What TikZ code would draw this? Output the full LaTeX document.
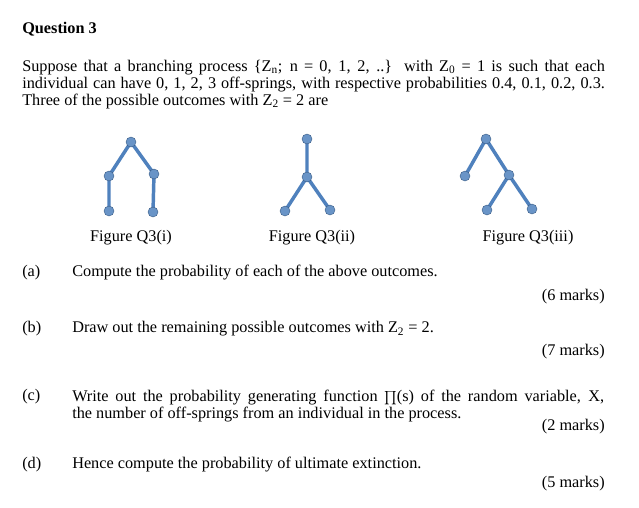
\documentclass[tikz,border=0pt]{standalone}
\usepackage{fontspec}
\setmainfont{Liberation Serif}
\definecolor{tb}{RGB}{79,129,189}
\begin{document}
\begin{tikzpicture}[x=0.75pt,y=-0.75pt,
  dot/.style={circle,fill=tb!85,draw=tb!70!black,line width=0.3pt,inner sep=0pt,minimum size=7.5pt},
  br/.style={draw=tb,line width=2.6pt},
  txt/.style={anchor=west,inner sep=0pt,font=\fontsize{12.2}{12.75}\selectfont},
  mk/.style={anchor=east,inner sep=0pt,font=\fontsize{12.2}{12.75}\selectfont}]
\fill[white] (0,0) rectangle (639,507);
\useasboundingbox (0,0) rectangle (639,507);
\node[txt,font=\fontsize{12.2}{12.75}\bfseries] (q) at (22,29) {Question 3};
\node[anchor=north west,inner sep=0pt,text width=437pt,align=justify,font=\fontsize{12.2}{12.75}\selectfont] (p) at (22,60)
 {Suppose that a branching process \{Z\textsubscript{n}; n = 0, 1, 2, ..\} with Z\textsubscript{0} = 1 is such that each\linebreak individual can have 0, 1, 2, 3 off-springs, with respective probabilities 0.4, 0.1, 0.2, 0.3.\linebreak Three of the possible outcomes with Z\textsubscript{2} = 2 are};
% figure i
\coordinate (a0) at (131,142);\coordinate (a1) at (109,176);\coordinate (a2) at (154,174);\coordinate (a3) at (109,211);\coordinate (a4) at (153,212);
\draw[br] (a3)--(a1)--(a0)--(a2)--(a4);
% figure ii
\coordinate (b0) at (307,139);\coordinate (b1) at (307,177);\coordinate (b2) at (285,211);\coordinate (b3) at (330,210);
\draw[br] (b0)--(b1) (b2)--(b1)--(b3);
% figure iii
\coordinate (c0) at (486,139);\coordinate (c1) at (465,176);\coordinate (c2) at (509,175);\coordinate (c3) at (487,210);\coordinate (c4) at (532,209);
\draw[br] (c1)--(c0)--(c2)--(c3) (c2)--(c4);
\foreach \n in {a0,a1,a2,a3,a4,b0,b1,b2,b3,c0,c1,c2,c3,c4} \node[dot] at (\n) {};
\node[txt,anchor=center] (f1) at (131,238) {Figure Q3(i)};
\node[txt,anchor=center] (f2) at (312,238) {Figure Q3(ii)};
\node[txt,anchor=center] (f3) at (528,238) {Figure Q3(iii)};
\node[txt] (la) at (22,273) {(a)};
\node[txt] (ta) at (72,273) {Compute the probability of each of the above outcomes.};
\node[mk] (ma) at (605,297) {(6 marks)};
\node[txt] (lb) at (22,329) {(b)};
\node[txt] (tb) at (72,329) {Draw out the remaining possible outcomes with Z\textsubscript{2} = 2.};
\node[mk] (mb) at (605,352) {(7 marks)};
\node[txt] (lc) at (22,397) {(c)};
\node[anchor=north west,inner sep=0pt,text width=399pt,align=justify,font=\fontsize{12.2}{12.75}\selectfont] (tc) at (72,390)
 {Write out the probability generating function $\prod$(s) of the random variable, X,\linebreak the number of off-springs from an individual in the process.};
\node[mk] (mc) at (605,427) {(2 marks)};
\node[txt] (ld) at (22,465) {(d)};
\node[txt] (td) at (72,465) {Hence compute the probability of ultimate extinction.};
\node[mk] (md) at (605,484) {(5 marks)};
\end{tikzpicture}
\end{document}
